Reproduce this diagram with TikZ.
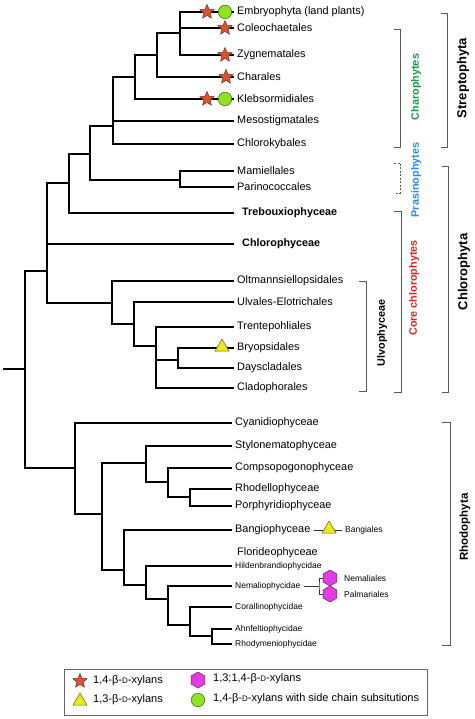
\documentclass[tikz,border=0pt]{standalone}
\usepackage{fontspec}
\setmainfont{Liberation Sans}
\usetikzlibrary{shapes.geometric}
\definecolor{starc}{HTML}{D95430}
\definecolor{greenc}{HTML}{8FE31F}
\definecolor{yellowc}{HTML}{E8E81C}
\definecolor{magc}{HTML}{E23CE2}
\definecolor{grpgreen}{HTML}{1E9648}
\definecolor{grpblue}{HTML}{2B8BE6}
\definecolor{grpred}{HTML}{E82020}
\newcommand{\scD}{{\fontsize{8}{8}\selectfont D}}
\tikzset{
  tree/.style={line width=1.5pt, line join=miter},
  thinln/.style={line width=0.7pt, draw=black!80},
  leaf/.style={anchor=west, inner xsep=3pt, inner ysep=0pt, font=\fontsize{10.9}{12}\selectfont},
  bleaf/.style={leaf, inner xsep=8pt, font=\bfseries\fontsize{10.8}{12}\selectfont},
  smallleaf/.style={leaf, font=\fontsize{8.5}{10}\selectfont},
  brk/.style={draw=black!65, line width=0.8pt},
  grp/.style={rotate=90, inner sep=0pt, font=\bfseries\fontsize{10.8}{12}\selectfont},
  biggrp/.style={grp, font=\bfseries\fontsize{13}{14}\selectfont},
  starm/.style={star, star points=5, star point ratio=2.2, minimum size=15pt, inner sep=0pt, fill=starc, draw=starc!55!black, line width=0.5pt},
  circm/.style={circle, minimum size=13.5pt, inner sep=0pt, fill=greenc, draw=greenc!45!black, line width=0.5pt},
  trim/.style={regular polygon, regular polygon sides=3, minimum size=16pt, inner sep=0pt, fill=yellowc, draw=yellowc!45!black, line width=0.5pt},
  hexm/.style={regular polygon, regular polygon sides=6, shape border rotate=30, minimum size=16pt, inner sep=0pt, fill=magc, draw=magc!45!black, line width=0.5pt},
  legtext/.style={anchor=west, inner sep=0pt, font=\fontsize{11}{12}\selectfont}
}
\begin{document}
\begin{tikzpicture}[x=1pt,y=-1pt]
\useasboundingbox (0,0) rectangle (474,719);

% ---------- leaves: Streptophyta ----------
\node[leaf] (emb) at (234,12) {Embryophyta (land plants)};
\node[leaf] (col) at (234,28) {Coleochaetales};
\node[leaf] (zyg) at (234,55) {Zygnematales};
\node[leaf] (cha) at (234,77) {Charales};
\node[leaf] (kle) at (234,99) {Klebsormidiales};
\node[leaf] (mes) at (234,121) {Mesostigmatales};
\node[leaf] (chk) at (234,144) {Chlorokybales};
\node[leaf] (mam) at (234,171) {Mamiellales};
\node[leaf] (par) at (234,187) {Parinococcales};
\node[bleaf] (tre) at (234,213) {Trebouxiophyceae};
\node[bleaf] (chl) at (234,244) {Chlorophyceae};
\node[leaf] (olt) at (234,281) {Oltmannsiellopsidales};
\node[leaf] (ulv) at (234,302) {Ulvales-Elotrichales};
\node[leaf] (ten) at (234,327) {Trentepohliales};
\node[leaf] (bry) at (234,348) {Bryopsidales};
\node[leaf] (day) at (234,368) {Dayscladales};
\node[leaf] (cla) at (234,388) {Cladophorales};

% ---------- leaves: Rhodophyta ----------
\node[leaf] (cya) at (232,423) {Cyanidiophyceae};
\node[leaf] (sty) at (232,446) {Stylonematophyceae};
\node[leaf] (com) at (232,468) {Compsopogonophyceae};
\node[leaf] (rhd) at (232,489) {Rhodellophyceae};
\node[leaf] (por) at (232,506) {Porphyridiophyceae};
\node[leaf] (ban) at (232,530) {Bangiophyceae};
\node[leaf] (flo) at (234,553) {Florideophyceae};
\node[smallleaf] (hil) at (232,566) {Hildenbrandiophycidae};
\node[smallleaf] (nem) at (232,586) {Nemaliophycidae};
\node[smallleaf] (cor) at (232,607) {Corallinophycidae};
\node[smallleaf] (ahn) at (232,629) {Ahnfeltiophycidae};
\node[smallleaf] (rho) at (232,644) {Rhodymeniophycidae};

% ---------- internal nodes ----------
\coordinate (n1) at (180,33);
\coordinate (n2) at (157,55);
\coordinate (n3) at (135,77);
\coordinate (n4) at (113,126);
\coordinate (n5) at (180,180);
\coordinate (n6) at (90,154);
\coordinate (n7) at (69,183);
\coordinate (n8) at (47,271);
\coordinate (n9) at (112,303);
\coordinate (n10) at (134,324);
\coordinate (n11) at (156,346);
\coordinate (n12) at (178,360);
\coordinate (n0) at (25,369);
\coordinate (r0) at (3,369);
\coordinate (nR) at (75,468);
\coordinate (nR2) at (102,514);
\coordinate (nR3) at (146,463);
\coordinate (nR4) at (168,482);
\coordinate (nR5) at (190,497);
\coordinate (nR6) at (124,570);
\coordinate (nR7) at (146,585);
\coordinate (nR8) at (168,599);
\coordinate (nR9) at (190,625);
\coordinate (nR10) at (212,636);

% ---------- tree ----------
\draw[tree] (emb.west) -| (n1) |- (zyg.west);
\draw[tree] (n1 |- col) -- (col.west);
\draw[tree] (n1) -| (n2) |- (cha.west);
\draw[tree] (n2) -| (n3) |- (kle.west);
\draw[tree] (n3) -| (n4) |- (chk.west);
\draw[tree] (n4 |- mes) -- (mes.west);
\draw[tree] (mam.west) -| (n5) |- (par.west);
\draw[tree] (n4) -| (n6) |- (n5);
\draw[tree] (n6) -| (n7) |- (tre.west);
\draw[tree] (n7) -| (n8) |- (n9);
\draw[tree] (n8 |- chl) -- (chl.west);
\draw[tree] (olt.west) -| (n9) |- (n10);
\draw[tree] (ulv.west) -| (n10) |- (n11);
\draw[tree] (ten.west) -| (n11) |- (cla.west);
\draw[tree] (n11 |- n12) -- (n12);
\draw[tree] (bry.west) -| (n12) |- (day.west);
\draw[tree] (r0) -- (n0);
\draw[tree] (n8) -| (n0) |- (nR);
\draw[tree] (cya.west) -| (nR) |- (nR2);
\draw[tree] (nR3) -| (nR2) |- (nR6);
\draw[tree] (sty.west) -| (nR3) |- (nR4);
\draw[tree] (com.west) -| (nR4) |- (nR5);
\draw[tree] (rhd.west) -| (nR5) |- (por.west);
\draw[tree] (ban.west) -| (nR6) |- (nR7);
\draw[tree] (hil.west) -| (nR7) |- (nR8);
\draw[tree] (nem.west) -| (nR8) |- (nR9);
\draw[tree] (cor.west) -| (nR9) |- (nR10);
\draw[tree] (ahn.west) -| (nR10) |- (rho.west);

% ---------- markers on branches ----------
\node[starm] (s1) at (207,12) {};
\node[circm] (c1) at (225,12) {};
\node[starm] (s2) at (225,28) {};
\node[starm] (s3) at (225,55) {};
\node[starm] (s4) at (226,77) {};
\node[starm] (s5) at (207,99) {};
\node[circm] (c2) at (225,99) {};
\node[trim] (t1) at (222,347) {};

% ---------- Bangiales ----------
\node[smallleaf] (bgl) at (342,530) {Bangiales};
\draw[thinln] (ban.east) -- (bgl.west);
\node[trim] (t2) at (329,529) {};

% ---------- Nemaliales / Palmariales ----------
\coordinate (nb) at (319,586);
\node[hexm] (h1) at (330,578) {};
\node[hexm] (h2) at (330,594) {};
\node[smallleaf] (nml) at (341,578) {Nemaliales};
\node[smallleaf] (pml) at (341,594) {Palmariales};
\draw[thinln] (nem.east) -- (nb);
\draw[thinln] (h1.west) -| (nb) |- (h2.west);

% ---------- brackets ----------
\draw[brk] (441,13) -- (447,13) -- (447,147) -- (441,147);
\draw[brk] (394,29) -- (400,29) -- (400,147) -- (394,147);
\draw[brk, dashed, dash pattern=on 2pt off 1.5pt] (394,163) -- (400,163) -- (400,193) -- (394,193);
\draw[brk] (394,211) -- (401,211) -- (401,392) -- (394,392);
\draw[brk] (442,166) -- (448,166) -- (448,392) -- (442,392);
\draw[brk] (359,281) -- (366,281) -- (366,391) -- (359,391);
\draw[brk] (442,422) -- (450,422) -- (450,645) -- (442,645);

% ---------- group labels ----------
\node[biggrp] (lstr) at (463,78) {Streptophyta};
\node[grp, text=grpgreen] (lcha) at (416,87) {Charophytes};
\node[grp, text=grpblue] (lpra) at (416,180) {Prasinophytes};
\node[grp, text=grpred] (lcor) at (414,288) {Core chlorophytes};
\node[biggrp] (lchl) at (464,272) {Chlorophyta};
\node[grp] (lulv) at (382,333) {Ulvophyceae};
\node[grp, font=\bfseries\fontsize{11.5}{13}\selectfont] (lrho) at (465,527) {Rhodophyta};

% ---------- legend ----------
\draw[draw=black!60, line width=0.9pt] (64,669) rectangle (427,715);
\node[starm] (ls) at (80,681) {};
\node[trim] (lt) at (80,701) {};
\node[hexm] (lh) at (198,680) {};
\node[circm] (lc) at (198,700) {};
\node[legtext] (lt1) at (93,681) {1,4-β-\scD-xylans};
\node[legtext] (lt2) at (93,700) {1,3-β-\scD-xylans};
\node[legtext] (lt3) at (213,679) {1,3;1,4-β-\scD-xylans};
\node[legtext] (lt4) at (213,699) {1,4-β-\scD-xylans with side chain subsitutions};
\end{tikzpicture}
\end{document}
